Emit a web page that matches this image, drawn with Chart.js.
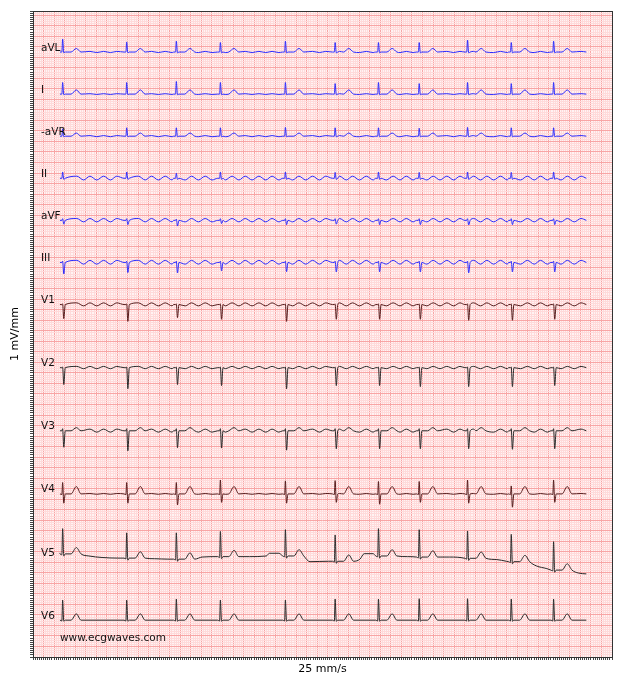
<!DOCTYPE html>
<html>
<head>
<meta charset="utf-8">
<script src="https://cdn.jsdelivr.net/npm/chart.js@4.4.0/dist/chart.umd.min.js"></script>
<style>
    html, body { margin: 0; padding: 0; background: #fff; }
</style>
</head>
<body>
<canvas id="ecgChart" width="624" height="687"></canvas>
<script>
// Données (temps en s, amplitudes en mV)
const leadNames = ['aVL', 'I', '-aVR', 'II', 'aVF', 'III', 'V1', 'V2', 'V3', 'V4', 'V5', 'V6'];
const leadBaselines = [287.5, 267.5, 247.5, 227.5, 207.5, 187.5, 167.5, 137.5, 107.5, 77.5, 47.5, 17.5]; // mm
const beatTimes = [0.051, 1.268, 2.211, 3.048, 4.283, 5.228, 6.051, 6.825, 7.743, 8.574, 9.378];
const flutterTimes = [0.32, 0.57, 0.83, 1.08, 1.49, 1.74, 2.00, 2.25, 2.50, 2.76, 3.01, 3.27, 3.52, 3.78,
    4.03, 4.29, 4.54, 4.80, 5.05, 5.31, 5.56, 5.82, 6.07, 6.33, 6.58, 6.84, 7.09, 7.35, 7.60, 7.86,
    8.11, 8.37, 8.62, 8.88, 9.13, 9.39, 9.64, 9.90];

// Onde R par dérivation et par battement
const rAVL = [0.62, 0.48, 0.52, 0.45, 0.52, 0.45, 0.45, 0.45, 0.57, 0.45, 0.52];
const rI = [0.55, 0.55, 0.60, 0.55, 0.55, 0.50, 0.55, 0.50, 0.55, 0.50, 0.55];
const rMinusAVR = [0.35, 0.40, 0.40, 0.40, 0.42, 0.40, 0.40, 0.38, 0.42, 0.40, 0.40];
const rII = [0.30, 0.30, 0.24, 0.30, 0.30, 0.28, 0.30, 0.28, 0.30, 0.28, 0.30];
const rAVF = [0.08, 0.08, 0.06, 0.08, 0.08, 0.08, 0.08, 0.08, 0.08, 0.08, 0.08];
const rIII = [0.06, 0.06, 0.06, 0.06, 0.06, 0.06, 0.06, 0.06, 0.06, 0.06, 0.06];
const rV1 = [0.03, 0.03, 0.03, 0.03, 0.03, 0.03, 0.03, 0.03, 0.03, 0.03, 0.03];
const rV2 = [0.03, 0.03, 0.03, 0.03, 0.03, 0.03, 0.03, 0.03, 0.03, 0.03, 0.03];
const rV3 = [0.10, 0.10, 0.10, 0.10, 0.10, 0.10, 0.10, 0.10, 0.10, 0.10, 0.10];
const rV4 = [0.54, 0.54, 0.54, 0.66, 0.62, 0.63, 0.59, 0.59, 0.66, 0.38, 0.66];
const rV5 = [1.20, 1.20, 1.25, 1.20, 1.25, 1.25, 1.30, 1.30, 1.30, 1.30, 1.35];
const rV6 = [0.95, 0.95, 1.00, 0.95, 0.95, 1.00, 1.00, 1.02, 1.02, 1.00, 1.00];

// Onde S par dérivation et par battement
const sAVL = [-0.04, -0.04, -0.04, -0.04, -0.04, -0.04, -0.04, -0.04, -0.04, -0.04, -0.04];
const sI = [-0.03, -0.03, -0.03, -0.03, -0.03, -0.03, -0.03, -0.03, -0.03, -0.03, -0.03];
const sMinusAVR = [-0.03, -0.03, -0.03, -0.03, -0.03, -0.03, -0.03, -0.03, -0.03, -0.03, -0.03];
const sII = [-0.05, -0.05, -0.05, -0.05, -0.05, -0.05, -0.05, -0.05, -0.05, -0.05, -0.05];
const sAVF = [-0.18, -0.20, -0.27, -0.15, -0.20, -0.18, -0.20, -0.20, -0.22, -0.20, -0.20];
const sIII = [-0.55, -0.48, -0.50, -0.40, -0.44, -0.45, -0.45, -0.45, -0.50, -0.45, -0.45];
const sV1 = [-0.67, -0.80, -0.62, -0.70, -0.80, -0.70, -0.70, -0.70, -0.75, -0.75, -0.70];
const sV2 = [-0.80, -1.00, -0.80, -0.85, -1.00, -0.85, -0.85, -0.90, -0.90, -0.90, -0.85];
const sV3 = [-0.78, -0.95, -0.80, -0.82, -0.92, -0.85, -0.85, -0.85, -0.85, -0.88, -0.85];
const sV4 = [-0.44, -0.44, -0.52, -0.40, -0.44, -0.40, -0.49, -0.40, -0.44, -0.63, -0.40];
const sV5 = [-0.10, -0.10, -0.10, -0.10, -0.10, -0.10, -0.10, -0.10, -0.10, -0.10, -0.10];
const sV6 = [-0.05, -0.05, -0.05, -0.05, -0.05, -0.05, -0.05, -0.05, -0.05, -0.05, -0.05];

// Ondes q, T et flutter par dérivation
const qWave = [0, 0, 0, 0, 0, 0, 0, 0, 0, -0.03, -0.04, -0.04];
const tWave = [0.17, 0.20, 0.15, 0, 0, 0, 0, 0, 0.15, 0.35, 0.30, 0.30];
const flutterAmp = [0.03, 0.02, 0.03, 0.10, 0.09, 0.10, 0.08, 0.06, 0.08, 0.02, 0, 0];

// Dérive de la ligne de base en V5
const baseV5 = [0.15, -0.05, -0.10, 0.02, 0.05, -0.20, 0.05, 0.00, -0.06, -0.22, -0.62];
const driftV5 = [[0, 0.20], [0.55, 0.05], [0.80, -0.02], [1.10, -0.05], [1.80, -0.08], [2.05, -0.10],
    [2.70, 0.00], [3.60, 0.02], [3.92, 0.05], [3.98, 0.18], [4.16, 0.18], [4.75, -0.22], [5.10, -0.20],
    [5.70, -0.10], [5.78, 0.16], [5.95, 0.16], [6.60, 0.02], [7.40, 0.00], [8.30, -0.12], [8.48, -0.20],
    [9.05, -0.42], [9.25, -0.55], [9.85, -0.76], [10.0, -0.80]];

const rWaves = [rAVL, rI, rMinusAVR, rII, rAVF, rIII, rV1, rV2, rV3, rV4, rV5, rV6];
const sWaves = [sAVL, sI, sMinusAVR, sII, sAVF, sIII, sV1, sV2, sV3, sV4, sV5, sV6];

// Papier ECG
const paperSpeed = 25;   // mm/s
const gain = 10;         // mm/mV
const traceStart = 12.8; // mm
const leadColors = ['#2b2bff', '#2b2bff', '#2b2bff', '#2b2bff', '#2b2bff', '#2b2bff',
    '#561c1c', '#2a2a2a', '#2a2a2a', '#561c1c', '#2a2a2a', '#2a2a2a'];
const paperColor = 'rgb(255, 243, 243)';
const minorGrid = 'rgb(255, 218, 218)';
const majorGrid = 'rgb(248, 165, 165)';

function isBusy(t, lead) {
    return beatTimes.some(tR => (t > tR - 0.07 && t < tR + 0.07) ||
        (tWave[lead] && t > tR + 0.12 && t < tR + 0.4));
}

function buildLead(lead) {
    const base = lead === 10 ? baseV5 : beatTimes.map(() => 0);
    const drift = lead === 10 ? driftV5 : [[0, 0], [10, 0]];
    const pts = drift.slice();

    beatTimes.forEach((tR, k) => {
        const b = base[k];
        pts.push([tR - 0.05, b], [tR - 0.015, b + qWave[lead]], [tR, b + rWaves[lead][k]],
            [tR + 0.022, b + sWaves[lead][k]], [tR + 0.05, b]);
        if (tWave[lead]) {
            pts.push([tR + 0.16, b], [tR + 0.26, b + tWave[lead]], [tR + 0.35, b]);
        }
    });

    const f = flutterAmp[lead];
    if (f) {
        flutterTimes.forEach(ft => {
            [[ft, f], [ft + 0.13, -0.8 * f]].forEach(([t, v]) => {
                if (t < 10 && !isBusy(t, lead)) pts.push([t, v]);
            });
        });
    }

    pts.sort((a, b) => a[0] - b[0]);
    return pts.map(([t, v]) => ({ x: traceStart + t * paperSpeed, y: leadBaselines[lead] + v * gain }));
}

// Fond du papier, étiquettes des dérivations et cadre
const paper = {
    id: 'paper',
    beforeDraw(chart) {
        const { ctx, chartArea: a } = chart;
        ctx.save();
        ctx.fillStyle = paperColor;
        ctx.fillRect(a.left, a.top, a.right - a.left, a.bottom - a.top);
        ctx.restore();
    }
};

const leadLabels = {
    id: 'leadLabels',
    afterDatasetsDraw(chart) {
        const { ctx, scales: { x, y } } = chart;
        ctx.save();
        ctx.font = '10.5px "DejaVu Sans"';
        ctx.fillStyle = '#111';
        ctx.textBaseline = 'middle';
        leadNames.forEach((name, i) => {
            ctx.fillText(name, x.getPixelForValue(3.8), y.getPixelForValue(leadBaselines[i] + 2.0));
        });
        ctx.fillText('www.ecgwaves.com', x.getPixelForValue(12.8), y.getPixelForValue(9));
        ctx.restore();
    }
};

const frame = {
    id: 'frame',
    afterDraw(chart) {
        const { ctx, chartArea: a } = chart;
        ctx.save();
        ctx.strokeStyle = '#333';
        ctx.lineWidth = 1;
        ctx.strokeRect(a.left + 0.5, a.top + 0.5, a.right - a.left, a.bottom - a.top);
        ctx.restore();
    }
};

const gridColor = (c) => (c.tick && Math.round(c.tick.value) % 5 === 0 ? majorGrid : minorGrid);

document.addEventListener('DOMContentLoaded', function () {
    const canvas = document.getElementById('ecgChart');

    new Chart(canvas, {
        type: 'line',
        data: {
            datasets: leadNames.map((name, i) => ({
                label: name,
                data: buildLead(i),
                borderColor: leadColors[i],
                borderWidth: 1,
                pointRadius: 0,
                fill: false,
                cubicInterpolationMode: 'monotone'
            }))
        },
        options: {
            responsive: false,
            devicePixelRatio: 1,
            animation: false,
            events: [],
            layout: { padding: { top: 11, right: 12, left: 0, bottom: 0 } },
            scales: {
                x: {
                    type: 'linear', min: 0, max: 275,
                    ticks: { stepSize: 1, display: false },
                    grid: { color: gridColor, tickColor: '#444', tickLength: 3 },
                    border: { display: false },
                    title: {
                        display: true, text: '25 mm/s', color: '#000',
                        font: { family: 'DejaVu Sans', size: 11 },
                        padding: { top: 11, bottom: 11 }
                    },
                    afterFit: (s) => { s.height = 30; }
                },
                y: {
                    type: 'linear', min: 0, max: 307,
                    ticks: { stepSize: 1, display: false },
                    grid: { color: gridColor, tickColor: '#444', tickLength: 3 },
                    border: { display: false },
                    title: {
                        display: true, text: '1 mV/mm', color: '#000',
                        font: { family: 'DejaVu Sans', size: 11 },
                        padding: { top: 9, bottom: 9 }
                    },
                    afterFit: (s) => { s.width = 33; }
                }
            },
            plugins: {
                legend: { display: false },
                tooltip: { enabled: false }
            }
        },
        plugins: [paper, leadLabels, frame]
    });
});
</script>
</body>
</html>
